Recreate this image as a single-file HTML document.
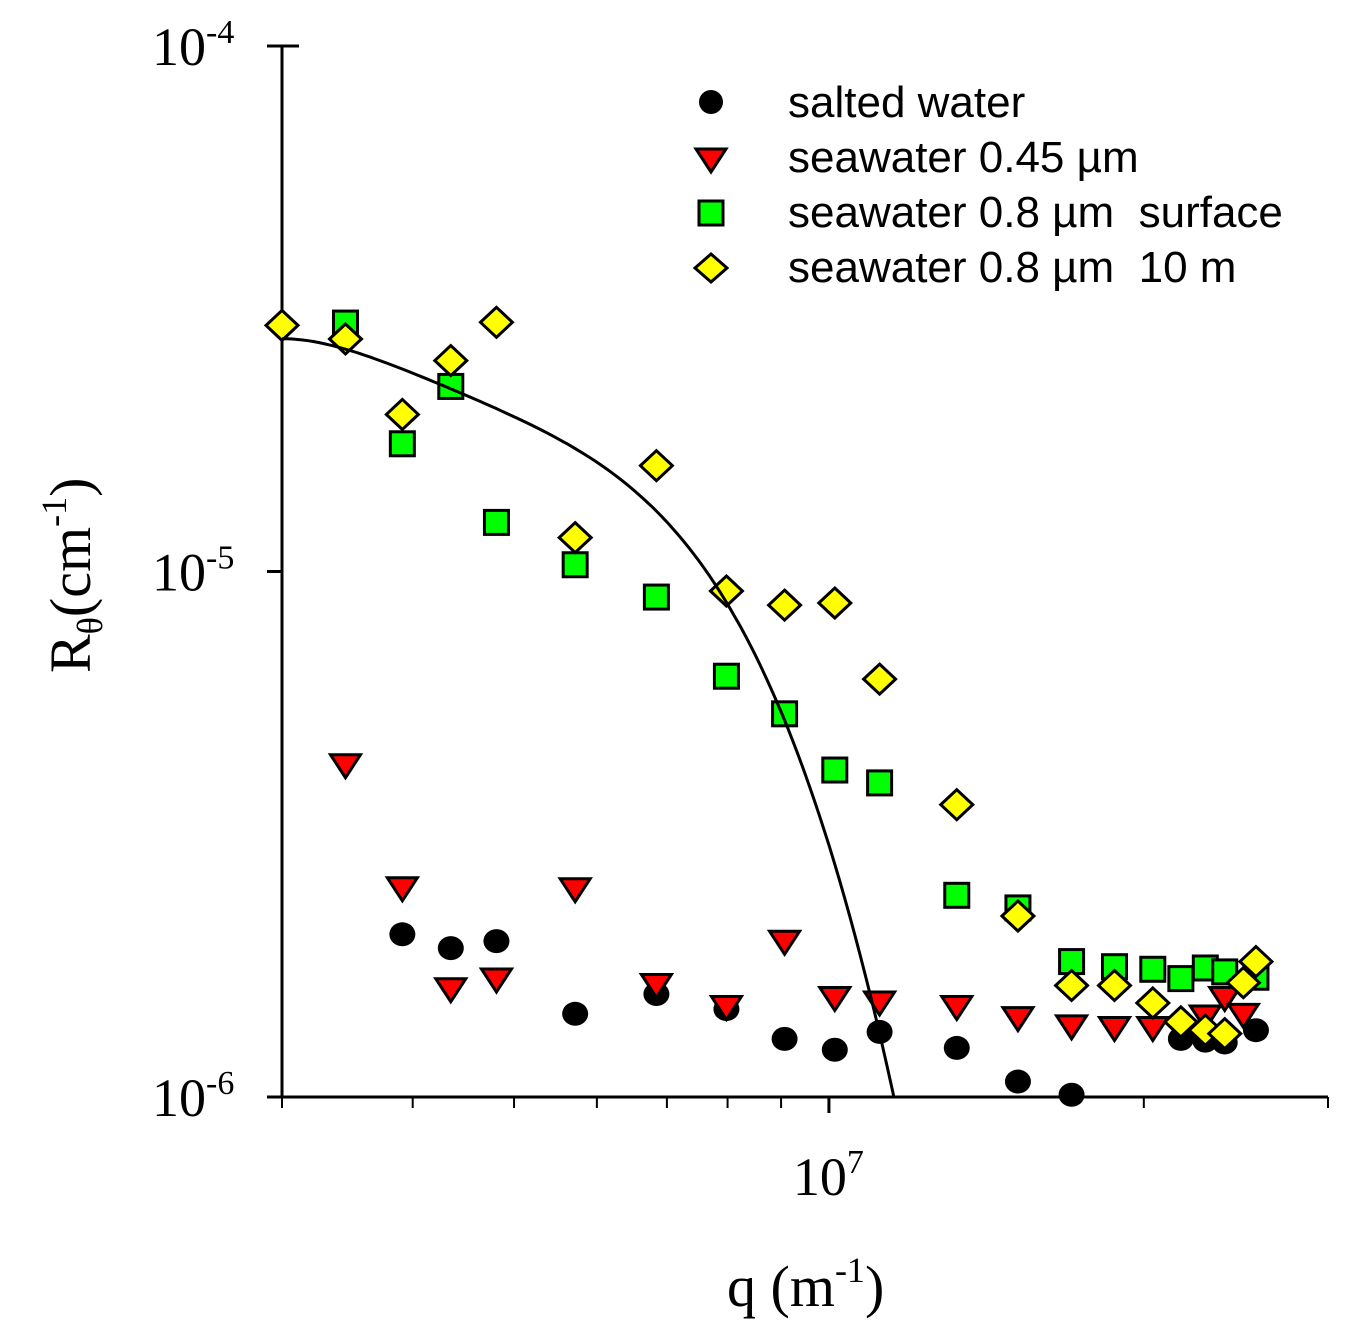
<!DOCTYPE html>
<html><head><meta charset="utf-8"><style>
html,body{margin:0;padding:0;background:#fff}
svg{display:block}
text{font-family:"Liberation Serif",serif;fill:#000}
.leg{font-family:"Liberation Sans",sans-serif;font-size:44px;white-space:pre}
</style></head><body>
<svg id="chart" width="1360" height="1332" viewBox="0 0 1360 1332" xmlns="http://www.w3.org/2000/svg">
<g id="axes"></g>
<g id="marks"></g>
<g id="legend">
  <circle cx="711" cy="102" r="12" fill="#000"/>
  <text class="leg" x="788" y="117">salted water</text>
  <path d="M696,149 L726,149 L711,172 Z" fill="#f00" stroke="#000" stroke-width="3"/>
  <text class="leg" x="788" y="172">seawater 0.45 µm</text>
  <rect x="699" y="201" width="24" height="24" fill="#0f0" stroke="#000" stroke-width="3"/>
  <text class="leg" x="788" y="227" xml:space="preserve">seawater 0.8 µm  surface</text>
  <path d="M711,254 L727,268 L711,282 L695,268 Z" fill="#ff0" stroke="#000" stroke-width="3"/>
  <text class="leg" x="788" y="282" xml:space="preserve">seawater 0.8 µm  10 m</text>
</g>
</svg>
<script>
const xTicksMinor = [3e6,4e6,5e6,6e6,7e6,8e6,9e6,2e7,3e7];
const yTickExps = [-4,-5,-6];
const saltedQ = [3.91e6,4.35e6,4.81e6,5.72e6,6.84e6,7.98e6,9.07e6,1.013e7,1.118e7,1.325e7,1.516e7,1.706e7,2.17e7,2.29e7,2.39e7,2.56e7];
const saltedR = [2.04e-6,1.92e-6,1.98e-6,1.44e-6,1.57e-6,1.47e-6,1.29e-6,1.23e-6,1.33e-6,1.24e-6,1.07e-6,1.01e-6,1.29e-6,1.28e-6,1.27e-6,1.34e-6];
const sea045Q = [3.45e6,3.91e6,4.35e6,4.81e6,5.72e6,6.84e6,7.98e6,9.07e6,1.013e7,1.118e7,1.325e7,1.516e7,1.706e7,1.875e7,2.04e7,2.29e7,2.39e7,2.49e7];
const sea045R = [4.27e-6,2.49e-6,1.60e-6,1.67e-6,2.48e-6,1.63e-6,1.48e-6,1.97e-6,1.54e-6,1.51e-6,1.48e-6,1.41e-6,1.36e-6,1.35e-6,1.35e-6,1.42e-6,1.54e-6,1.43e-6];
const surfQ = [3.45e6,4.35e6,3.91e6,4.81e6,5.72e6,6.84e6,7.98e6,9.07e6,1.013e7,1.118e7,1.325e7,1.516e7,1.706e7,1.875e7,2.04e7,2.17e7,2.29e7,2.39e7,2.56e7];
const surfR = [2.97e-5,2.25e-5,1.75e-5,1.24e-5,1.03e-5,8.94e-6,6.32e-6,5.36e-6,4.19e-6,3.96e-6,2.42e-6,2.29e-6,1.81e-6,1.77e-6,1.75e-6,1.68e-6,1.76e-6,1.73e-6,1.69e-6];
const tenQ = [3.0e6,3.45e6,3.91e6,4.35e6,4.81e6,5.72e6,6.84e6,7.98e6,9.07e6,1.013e7,1.118e7,1.325e7,1.516e7,1.706e7,1.875e7,2.04e7,2.17e7,2.29e7,2.39e7,2.49e7,2.56e7];
const tenR = [2.94e-5,2.77e-5,1.99e-5,2.52e-5,2.98e-5,1.16e-5,1.59e-5,9.18e-6,8.63e-6,8.71e-6,6.24e-6,3.60e-6,2.21e-6,1.63e-6,1.63e-6,1.51e-6,1.39e-6,1.34e-6,1.32e-6,1.65e-6,1.81e-6];
const fitQ = [3.0e6,3.45e6,4.34e6,5.61e6,6.36e6,7.35e6,8.03e6,8.79e6,9.62e6,1.051e7,1.147e7,1.157e7];
const fitR = [2.78e-5,2.63e-5,2.25e-5,1.755e-5,1.467e-5,1.104e-5,8.6e-6,6.11e-6,3.82e-6,2.11e-6,1.045e-6,0.99e-6];

const NS='http://www.w3.org/2000/svg';
const X0=282,X1=1328,Y0=1097,Y1=46;
function sx(q){return X0+(Math.log10(q)-Math.log10(3e6))/(Math.log10(3e7)-Math.log10(3e6))*(X1-X0);}
function sy(r){return Y0-(Math.log10(r)+6)/2*(Y0-Y1);}
function mk(tag,attrs,parent){const e=document.createElementNS(NS,tag);for(const k in attrs)e.setAttribute(k,attrs[k]);parent.appendChild(e);return e;}
const axes=document.getElementById('axes'), marks=document.getElementById('marks');

let l=mk('line',{x1:X0,y1:Y1,x2:X0,y2:Y0,stroke:'#000','stroke-width':3},axes);


l=mk('line',{x1:X0,y1:Y0,x2:X1,y2:Y0,stroke:'#000','stroke-width':3},axes);


l=mk('line',{x1:267,y1:Y1,x2:299,y2:Y1,stroke:'#000','stroke-width':3},axes);


yTickExps.forEach(e=>{
  const y=sy(Math.pow(10,e));
  const t=mk('line',{x1:267,y1:y,x2:X0,y2:y,stroke:'#000','stroke-width':3},axes);
  
  
  const tx=mk('text',{x:152,y:y+19,'font-size':54},axes);
  
  
  tx.textContent='10';
  const sp=mk('tspan',{dy:-22,'font-size':34},tx);sp.textContent=String(e);
});
xTicksMinor.forEach(q=>{
  const x=sx(q);
  const t=mk('line',{x1:x,y1:Y0,x2:x,y2:Y0+11,stroke:'#000','stroke-width':2},axes);
  
  
});
{const x=sx(1e7);
 const t=mk('line',{x1:x,y1:Y0,x2:x,y2:Y0+16,stroke:'#000','stroke-width':3},axes);
 
 
 const tx=mk('text',{x:x-36,y:1195,'font-size':54},axes);
 
 
 tx.textContent='10';const sp=mk('tspan',{dy:-22,'font-size':34},tx);sp.textContent='7';}
{const tx=mk('text',{x:727,y:1306,'font-size':58},axes);
 
 
 tx.textContent='q (m';const a=mk('tspan',{dy:-24,'font-size':36},tx);a.textContent='-1';const b=mk('tspan',{dy:24},tx);b.textContent=')';}
{const tx=mk('text',{transform:'translate(90,673) rotate(-90)','font-size':58},axes);
 
 
 tx.textContent='R';const a=mk('tspan',{dy:12,'font-size':36},tx);a.textContent='θ';
 const b=mk('tspan',{dy:-12},tx);b.textContent='(cm';const c=mk('tspan',{dy:-24,'font-size':36},tx);c.textContent='-1';const d=mk('tspan',{dy:24},tx);d.textContent=')';}

saltedQ.forEach((q,i)=>{
  const c=mk('ellipse',{cx:sx(q),cy:sy(saltedR[i]),rx:13,ry:12,fill:'#000'},marks);
  
  
});
sea045Q.forEach((q,i)=>{
  const x=sx(q),y=sy(sea045R[i]);
  const p=mk('path',{d:`M${x-15},${y-11} L${x+15},${y-11} L${x},${y+12} Z`,fill:'#f00',stroke:'#000','stroke-width':3},marks);
  
  
});
surfQ.forEach((q,i)=>{
  const x=sx(q),y=sy(surfR[i]);
  const p=mk('rect',{x:x-12,y:y-12,width:24,height:24,fill:'#0f0',stroke:'#000','stroke-width':3},marks);
  
  
});
tenQ.forEach((q,i)=>{
  const x=sx(q),y=sy(tenR[i]);
  const p=mk('path',{d:`M${x},${y-15} L${x+16},${y} L${x},${y+15} L${x-16},${y} Z`,fill:'#ff0',stroke:'#000','stroke-width':3},marks);
  
  
});
// smooth least-squares polynomial through the fit points (pixel space)
function polyfit(xs,ys,deg){
  const n=deg+1,A=[];for(let i=0;i<n;i++){A.push(new Array(n+1).fill(0));}
  xs.forEach((x,k)=>{for(let i=0;i<n;i++){for(let j=0;j<n;j++)A[i][j]+=Math.pow(x,i+j);A[i][n]+=Math.pow(x,i)*ys[k];}});
  for(let i=0;i<n;i++){let p=i;for(let r=i+1;r<n;r++)if(Math.abs(A[r][i])>Math.abs(A[p][i]))p=r;[A[i],A[p]]=[A[p],A[i]];
    for(let r=0;r<n;r++){if(r===i)continue;const f=A[r][i]/A[i][i];for(let c=i;c<=n;c++)A[r][c]-=f*A[i][c];}}
  return A.map((row,i)=>row[n]/row[i]);
}
{const px=fitQ.map(sx),py=fitR.map(sy);
 const xmin=px[0],xmax=px[px.length-1],span=xmax-xmin;
 const coef=polyfit(px.map(x=>(x-xmin)/span),py,5);
 let d='';
 for(let k=0;k<=120;k++){const t=k/120*(1.02);const y=coef.reduce((s,c,i)=>s+c*Math.pow(t,i),0);const x=xmin+t*span;d+=(k?' L':'M')+x.toFixed(1)+','+y.toFixed(1);}
 mk('clipPath',{id:'plotclip'},marks);
 const cp=document.getElementById('plotclip');
 mk('rect',{x:X0,y:0,width:X1-X0,height:Y0},cp);
 const p=mk('path',{d:d,fill:'none',stroke:'#000','stroke-width':3,'clip-path':'url(#plotclip)'},marks);
 
 }
</script>
</body></html>
